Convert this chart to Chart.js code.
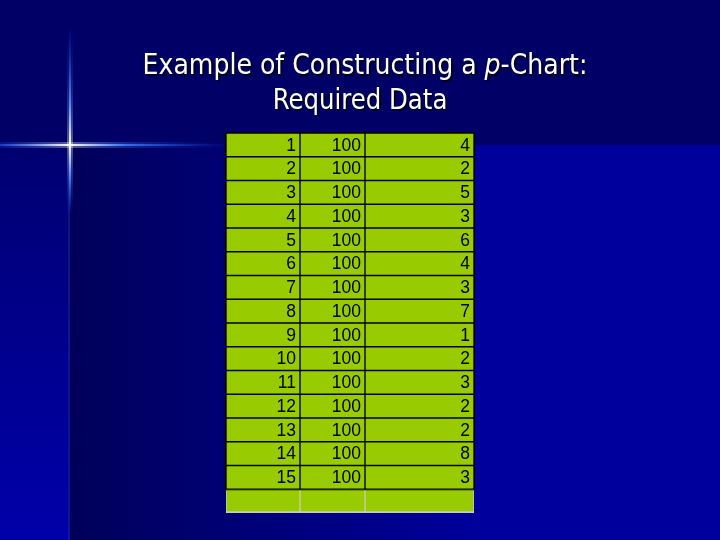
<!DOCTYPE html>
<html>
<head>
<meta charset="utf-8">
<script src="https://cdn.jsdelivr.net/npm/chart.js@4/dist/chart.umd.min.js"></script>
<style>
  html, body { margin: 0; padding: 0; background: #000066; }
  #wrap { position: relative; width: 720px; height: 540px; overflow: hidden; }
  #chart { position: absolute; left: 0; top: 0; }
  #title {
    position: absolute; left: 0; top: 47px; width: 720px;
    text-align: center; color: #ffffff;
    font-family: "DejaVu Sans Condensed", "DejaVu Sans", sans-serif;
    font-size: 28px; line-height: 35px;
    text-shadow: 2px 2px 1px #000022;
  }
  #title .l1 { position: relative; left: 5px; }
  #title .l2 { display: inline-block; transform: scaleX(0.97); }
</style>
</head>
<body>
<div id="wrap">
  <canvas id="chart" width="720" height="540"></canvas>
  <div id="title"><span class="l1">Example of Constructing a <i>p</i>-Chart:</span><br><span class="l2">Required Data</span></div>
</div>
<script>
// ── Data ────────────────────────────────────────────────────────────────
const SAMPLES   = ['1', '2', '3', '4', '5', '6', '7', '8', '9', '10', '11', '12', '13', '14', '15', ''];
const SIZES     = ['100', '100', '100', '100', '100', '100', '100', '100', '100', '100', '100', '100', '100', '100', '100', ''];
const DEFECTS   = ['4', '2', '5', '3', '6', '4', '3', '7', '1', '2', '3', '2', '2', '8', '3', ''];

// column edges along the x scale (widths of the three table columns)
const COL_EDGES = [0, 74, 139, 248];
const COLUMNS = [SAMPLES, SIZES, DEFECTS];

const CELL_FILL = '#99cc00';
const LAST = SAMPLES.length - 1; // blank row at the bottom

// ── Slide background + star glint ───────────────────────────────────────
const backgroundPlugin = {
  id: 'slideBackground',
  beforeDraw(chart) {
    const { ctx, width, height } = chart;
    const splitY = 145, stripX = 69;
    ctx.save();
    ctx.fillStyle = '#000066';
    ctx.fillRect(0, 0, width, height);

    // lower panel: dark on the left, bright blue on the right
    let g = ctx.createLinearGradient(stripX, 0, 480, 0);
    g.addColorStop(0, '#00005a');
    g.addColorStop(1, '#00009c');
    ctx.fillStyle = g;
    ctx.fillRect(stripX, splitY, width - stripX, height - splitY);

    // left strip: brightens towards the bottom
    g = ctx.createLinearGradient(0, splitY, 0, height);
    g.addColorStop(0, '#000070');
    g.addColorStop(1, '#0000aa');
    ctx.fillStyle = g;
    ctx.fillRect(0, splitY, stripX, height - splitY);

    // faint vertical seam under the glint
    ctx.fillStyle = 'rgba(30,60,200,0.35)';
    ctx.fillRect(stripX - 1, splitY, 2, height - splitY);

    // horizontal glint
    g = ctx.createLinearGradient(0, 0, 230, 0);
    g.addColorStop(0, 'rgba(40,100,255,0.5)');
    g.addColorStop(0.3, 'rgba(255,255,255,1)');
    g.addColorStop(0.55, 'rgba(60,130,255,0.8)');
    g.addColorStop(1, 'rgba(30,60,220,0)');
    ctx.fillStyle = g;
    ctx.fillRect(0, splitY - 1, 230, 2);
    ctx.globalAlpha = 0.35;
    ctx.fillRect(0, splitY - 3, 230, 6);
    ctx.globalAlpha = 1;

    // vertical glint
    g = ctx.createLinearGradient(0, 25, 0, 215);
    g.addColorStop(0, 'rgba(30,60,220,0)');
    g.addColorStop(0.4, 'rgba(90,150,255,0.8)');
    g.addColorStop(0.63, 'rgba(255,255,255,1)');
    g.addColorStop(0.8, 'rgba(90,150,255,0.8)');
    g.addColorStop(1, 'rgba(30,60,220,0)');
    ctx.fillStyle = g;
    ctx.fillRect(stripX, 25, 2, 190);
    ctx.globalAlpha = 0.35;
    ctx.fillRect(stripX - 2, 25, 6, 190);
    ctx.restore();
  }
};

// ── Cell text, right aligned inside each column ─────────────────────────
const cellTextPlugin = {
  id: 'cellText',
  afterDatasetsDraw(chart) {
    const { ctx, scales: { x, y } } = chart;
    ctx.save();
    ctx.fillStyle = '#000000';
    ctx.font = '17.5px "Liberation Sans", Arial, sans-serif';
    ctx.textAlign = 'right';
    ctx.textBaseline = 'middle';
    COLUMNS.forEach((col, c) => {
      const right = x.getPixelForValue(COL_EDGES[c + 1]) - 4;
      col.forEach((txt, r) => {
        if (txt) ctx.fillText(txt, right, y.getPixelForValue(r) + 1);
      });
    });
    // outer frame of the filled rows
    ctx.strokeStyle = '#000000';
    ctx.lineWidth = 1;
    const half = (y.getPixelForValue(1) - y.getPixelForValue(0)) / 2;
    const top = y.getPixelForValue(0) - half;
    const bot = y.getPixelForValue(LAST) - half;
    ctx.strokeRect(x.left - 0.5, top - 0.5, x.right - x.left + 1, bot - top + 1);
    ctx.restore();
  }
};

const datasets = COLUMNS.map((col, c) => ({
  label: 'col' + c,
  data: col.map(() => [COL_EDGES[c], COL_EDGES[c + 1]]),
  backgroundColor: CELL_FILL,
  borderColor: ctx => ctx.dataIndex === LAST ? '#c8ccc0' : '#000000',
  borderWidth: ctx => ctx.dataIndex === LAST
    ? { top: 0, left: 1, right: 1, bottom: 2 }
    : 1,
  borderSkipped: false,
  grouped: false,
  barPercentage: 1,
  categoryPercentage: 1
}));

new Chart(document.getElementById('chart'), {
  type: 'bar',
  plugins: [backgroundPlugin, cellTextPlugin],
  data: { labels: SAMPLES.map((s, i) => 'row' + i), datasets },
  options: {
    indexAxis: 'y',
    responsive: false,
    animation: false,
    devicePixelRatio: 1,
    layout: { padding: { left: 226, right: 246, top: 133, bottom: 27 } },
    plugins: { legend: { display: false }, tooltip: { enabled: false } },
    scales: {
      x: { type: 'linear', min: COL_EDGES[0], max: COL_EDGES[COL_EDGES.length - 1], display: false },
      y: { type: 'category', display: false }
    }
  }
});
</script>
</body>
</html>
